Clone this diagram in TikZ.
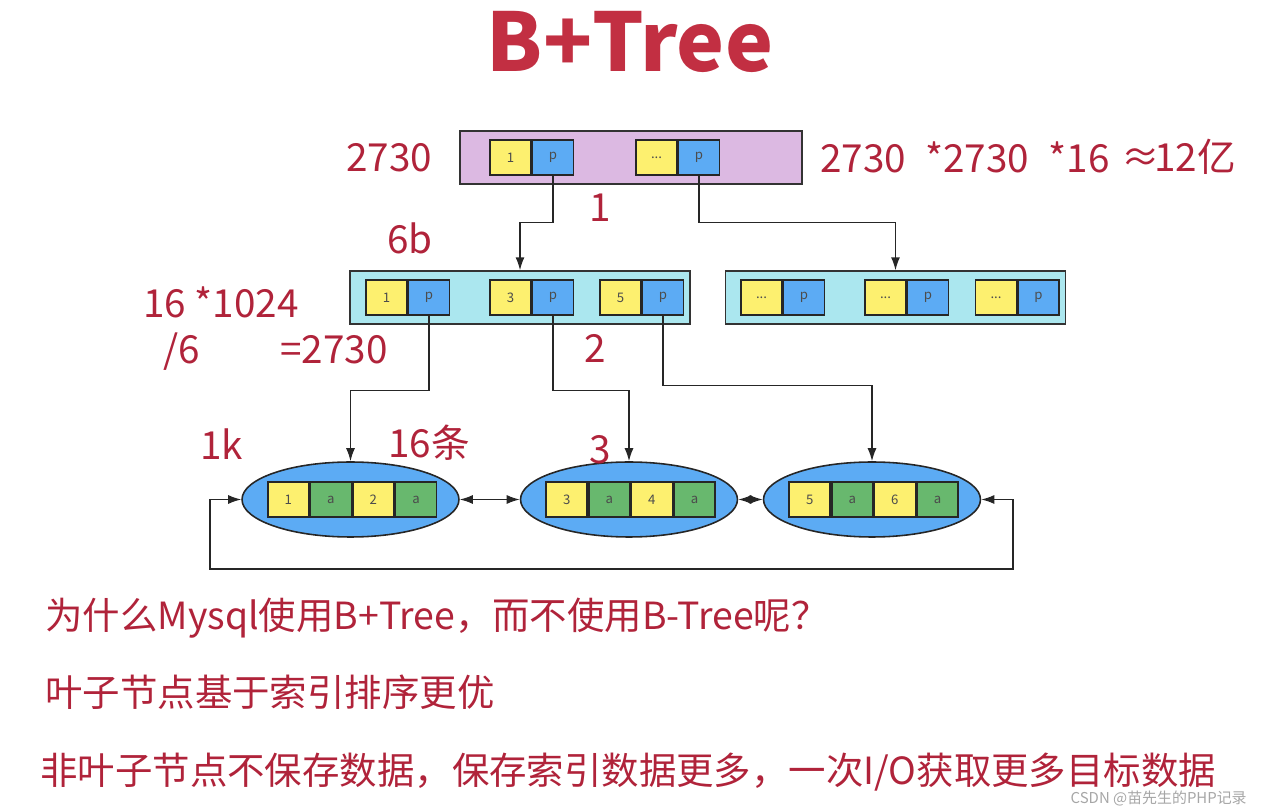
\documentclass[tikz,border=0pt]{standalone}
\usepackage{fontspec}
\setmainfont{Noto Sans CJK SC}
\usetikzlibrary{arrows.meta,positioning,shapes.geometric}

\definecolor{lblred}{HTML}{B0233A}
\definecolor{titlered}{HTML}{C22F42}
\definecolor{keyyel}{HTML}{FDF06F}
\definecolor{ptrblue}{HTML}{5CABF4}
\definecolor{datgrn}{HTML}{68B86E}
\definecolor{rootpur}{HTML}{DCB9E2}
\definecolor{midcyan}{HTML}{ABE7EF}

\newcommand{\lblsize}{\fontsize{22}{26}\selectfont}
\newcommand{\txtsize}{\fontsize{21.3}{25}\selectfont}
\newcommand{\etc}{...}

\begin{document}
\begin{tikzpicture}[x=0.02cm,y=-0.02cm,
   cell/.style={draw=black!85,line width=0.9pt,minimum width=0.82cm,minimum height=0.70cm,inner sep=0pt,font=\fontsize{7.5}{8}\selectfont,text=black!70},
   keycell/.style={cell,fill=keyyel},
   ptrcell/.style={cell,fill=ptrblue},
   datcell/.style={cell,fill=datgrn},
   rootbox/.style={draw=black!80,line width=0.8pt,fill=rootpur,minimum width=6.84cm,minimum height=1.06cm},
   midbox/.style={draw=black!80,line width=0.8pt,fill=midcyan,minimum width=6.80cm,minimum height=1.06cm},
   leaf/.style={ellipse,draw=black!85,line width=0.9pt,fill=ptrblue,minimum width=4.34cm,minimum height=1.50cm},
   lbl/.style={text=lblred,font=\lblsize,inner sep=0pt},
   txt/.style={text=lblred,font=\txtsize,anchor=west,inner sep=0pt},
   arr/.style={line width=0.8pt,black!85,-{Latex[length=2.6mm,width=1.8mm]}},
   arrs/.style={line width=0.8pt,black!85,{Latex[length=2.6mm,width=1.8mm]}-{Latex[length=2.6mm,width=1.8mm]}}]

   \useasboundingbox (0,0) rectangle (1262,810);

   \node[text=titlered,font=\fontsize{46}{50}\selectfont\bfseries] (title) at (630,42) {B+Tree};

   % root
   \node[rootbox] (root) at (631,157.5) {};
   \foreach \k/\x [count=\i] in {1/510.5, \etc/656.5} {
      \node[keycell] (rk\i) at (\x,157.5) {\k};
      \node[ptrcell,right=0pt of rk\i] (rp\i) {p};
   }

   % second level
   \node[midbox] (midl) at (520,297.5) {};
   \node[midbox] (midr) at (895.5,297.5) {};
   \foreach \k/\x [count=\i] in {1/386.5, 3/510.5, 5/620.5} {
      \node[keycell] (ak\i) at (\x,297.5) {\k};
      \node[ptrcell,right=0pt of ak\i] (ap\i) {p};
   }
   \foreach \x [count=\i] in {761.5, 885.5, 996} {
      \node[keycell] (bk\i) at (\x,297.5) {\etc};
      \node[ptrcell,right=0pt of bk\i] (bp\i) {p};
   }

   % leaves
   \foreach \c/\a/\b [count=\i] in {350.5/1/2, 629/3/4, 872/5/6} {
      \node[leaf] (leaf\i) at (\c,499.5) {};
      \node[keycell] (la\i) at (\c-62.25,499.5) {\a};
      \node[datcell,right=0pt of la\i] (da\i) {a};
      \node[keycell,right=0pt of da\i] (lb\i) {\b};
      \node[datcell,right=0pt of lb\i] (db\i) {a};
   }

   \draw[arr] (rp1.south) -- ++(0,47) -| (midl.north);
   \draw[arr] (rp2.south) -- ++(0,47) -| (midr.north);
   \draw[arr] (ap1.south) -- ++(0,75) -| (leaf1.north);
   \draw[arr] (ap2.south) -- ++(0,75) -| (leaf2.north);
   \draw[arr] (ap3.south) -- ++(0,70) -| (leaf3.north);

   \draw[arrs] (leaf1.east) -- (leaf2.west);
   \draw[arrs] (leaf2.east) -- (leaf3.west);
   \coordinate (loopl) at (210,569);
   \coordinate (loopr) at (1013,569);
   \draw[arrs] (leaf1.west) -| (loopl) -- (loopr) |- (leaf3.east);

   % notes
   \node[lbl] (n1) at (389,158) {2730};
   \node[lbl,anchor=west] (n2) at (820,157) {2730\hspace{0.5em}*2730\hspace{0.5em}*16};
   \node[lbl,anchor=east] (n2b) at (1236,157) {≈\hspace{-0.15em}12亿};
   \node[lbl] (n3) at (600,208) {1};
   \node[lbl] (n4) at (410,238) {6b};
   \node[lbl,anchor=west] (n5) at (143,302) {16 *1024};
   \node[lbl,anchor=west] (n6) at (163,352) {/6};
   \node[lbl,anchor=west] (n7) at (280,350) {=2730};
   \node[lbl] (n8) at (595,348) {2};
   \node[lbl,anchor=west] (n9) at (200,444) {1k};
   \node[lbl,anchor=west] (n10) at (388,443) {16条};
   \node[lbl] (n11) at (600,450) {3};

   \node[txt] (q1) at (45,618) {为什么Mysql使用B+Tree，而不使用B-Tree呢？};
   \node[txt] (q2) at (45,692) {叶子节点基于索引排序更优};
   \node[txt] (q3) at (40,772) {非叶子节点不保存数据，保存索引数据更多，一次I/O获取更多目标数据};

   \node[text=black!35,font=\fontsize{8.5}{9}\selectfont,anchor=east,inner sep=0pt] (mark) at (1247,798) {CSDN @苗先生的PHP记录};

\end{tikzpicture}
\end{document}
